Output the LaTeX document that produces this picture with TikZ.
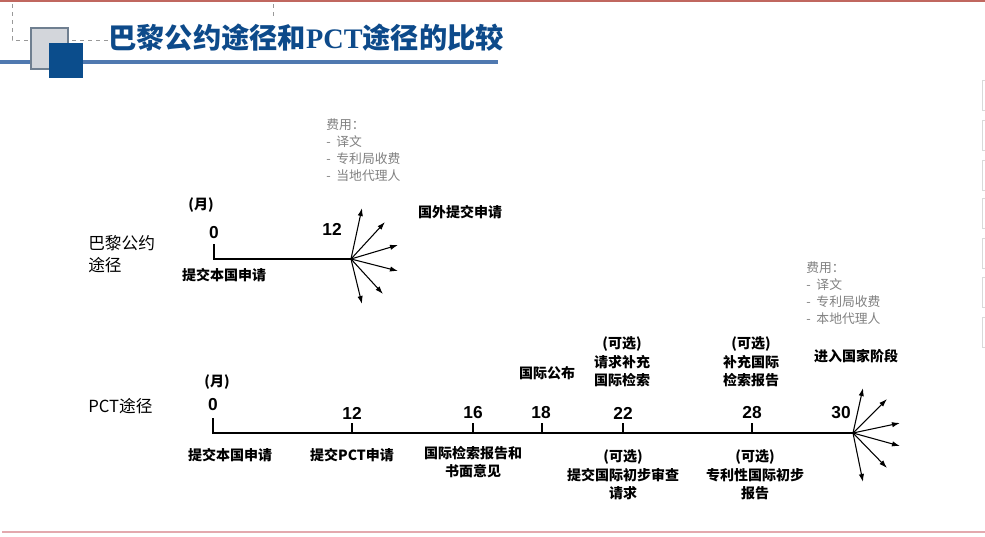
\documentclass[tikz,border=0pt]{standalone}
\usepackage{fontspec}
\setmainfont{Liberation Sans}
\newfontfamily\cjk{Noto Sans CJK SC}
\newfontfamily\titleserif{Liberation Serif}
\usetikzlibrary{positioning, calc, arrows.meta}
\definecolor{titleblue}{HTML}{0D4A8A}
\definecolor{boxblue}{HTML}{0B4D8C}
\definecolor{barblue}{HTML}{5079B0}
\definecolor{boxgray}{HTML}{D3D6DB}
\definecolor{edgegray}{HTML}{6F7F90}
\definecolor{topred}{HTML}{C0675F}
\definecolor{botpink}{HTML}{E3A9AE}

\begin{document}
\begin{tikzpicture}[x=0.75pt, y=-0.75pt,
  every node/.style={inner sep=0pt, font=\cjk\bfseries\fontsize{10.5}{14}\selectfont},
  num/.style={font=\bfseries\fontsize{13}{15}\selectfont},
  route/.style={align=left, anchor=west, font=\cjk\fontsize{12.5}{16.5}\selectfont},
  fee/.style={align=left, anchor=west, text=black!50, font=\cjk\fontsize{9.6}{12.7}\selectfont},
  axis/.style={draw=black, line width=1pt},
  fan/.style={draw=black, line width=0.8pt, -{Latex[length=6pt, width=4pt]}}]
\useasboundingbox (0,0) rectangle (985,536);

% frame of the slide
\draw[topred, line width=1.2pt] (0,1) -- (985,1);
\draw[botpink, line width=1.2pt] (2,532) -- (985,532);
\foreach \y in {80,120,160,198,238,277,317}
  \draw[black!15, line width=0.4pt] (985,\y) -- (982,\y) -- (982,\y+30) -- (985,\y+30);

% title block
\draw[black!40, dashed, line width=0.6pt] (12,4) -- (12,40) -- (110,40);
\draw[black!40, dashed, line width=0.6pt] (273,4) -- (273,18);
\draw[barblue, line width=3pt] (0,62) -- (498,62);
\filldraw[fill=boxgray, draw=edgegray, line width=1pt] (31,28) rectangle (68,69);
\fill[boxblue] (49,43) rectangle (83,78);
\node[anchor=west, text=titleblue, font=\cjk\bfseries\fontsize{21.2}{24}\selectfont] (title) at (108,38)
  {巴黎公约途径和{\titleserif PCT}途径的比较};

% Paris route
\node[route] (paris) at (88,254) {巴黎公约\\途径};
\node (pmon) at (201,205) {(月)};
\node[num] (p0) at (214,233) {0};
\node[num] (p12) at (332,229) {12};
\node[fee] (pfee) at (326,150) {费用：\\-\ \ 译文\\-\ \ 专利局收费\\-\ \ 当地代理人};
\node (pabroad) at (460,212) {国外提交申请};
\node (phome) at (224,275) {提交本国申请};
\coordinate (ptick) at (214,244);
\coordinate (pstart) at (214,259);
\coordinate (pfan) at (351,259);
\draw[axis] (ptick) -- (pstart) -- (pfan);
\foreach \dx/\dy [count=\i] in {11/-51, 34/-37, 47/-14, 47/12, 32/35, 11/45} {
  \coordinate (pend\i) at ($(pfan)+(\dx,\dy)$);
  \draw[fan] (pfan) -- (pend\i);
}

% PCT route
\node[route] (pct) at (88,406) {PCT途径};
\node (cmon) at (217,382) {(月)};
\node[num] (c0) at (213,405) {0};
\node[num] (c12) at (352,413) {12};
\node[num] (c16) at (473,413) {16};
\node[num] (c18) at (541,413) {18};
\node[num] (c22) at (623,413) {22};
\node[num] (c28) at (752,413) {28};
\node[num] (c30) at (841,413) {30};
\node[fee] (cfee) at (806,293) {费用：\\-\ \ 译文\\-\ \ 专利局收费\\-\ \ 本地代理人};
\node (cpub) at (547,373) {国际公布};
\node[align=center] (csis) at (622,362) {(可选)\\请求补充\\国际检索};
\node[align=center] (csisr) at (751,362) {(可选)\\补充国际\\检索报告};
\node (cnat) at (856,356) {进入国家阶段};
\node (chome) at (230,455) {提交本国申请};
\node (cpct) at (352,455) {提交PCT申请};
\node[align=center] (cisr) at (473,462) {国际检索报告和\\书面意见};
\node[align=center] (cipe) at (623,475) {(可选)\\提交国际初步审查\\请求};
\node[align=center] (ciprp) at (755,475) {(可选)\\专利性国际初步\\报告};
\coordinate (ctick) at (213,418);
\coordinate (cstart) at (213,433);
\coordinate (cfan) at (853,433);
\draw[axis] (ctick) -- (cstart) -- (cfan);
\foreach \x [count=\i] in {352,473,542,623,752} {
  \coordinate (ct\i) at (\x,423);
  \coordinate (cb\i) at (\x,433);
  \draw[axis] (ct\i) -- (cb\i);
}
\foreach \dx/\dy [count=\i] in {10/-45, 34/-34, 47/-10, 47/13, 34/35, 10/49} {
  \coordinate (cend\i) at ($(cfan)+(\dx,\dy)$);
  \draw[fan] (cfan) -- (cend\i);
}
\end{tikzpicture}
\end{document}
